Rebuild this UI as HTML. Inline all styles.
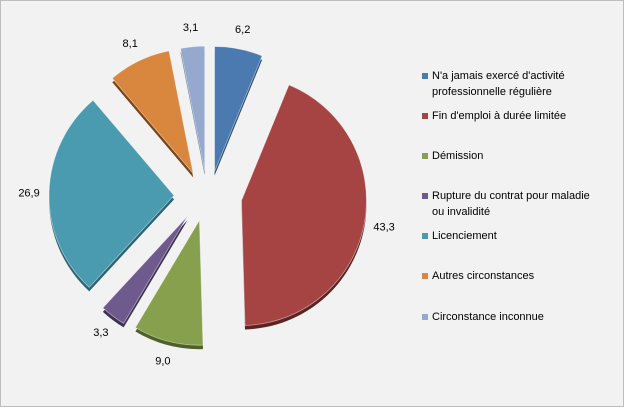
<!DOCTYPE html>
<html><head><meta charset="utf-8"><style>
body{margin:0;background:#fff}
#c{position:absolute;left:0;top:0;width:622px;height:405px;border:1px solid #bdbdbd;background:#f2f2f2;font-family:"Liberation Sans",sans-serif}
.lg{position:absolute;left:421px;font-size:11px;color:#000;line-height:16px}
.lg i{position:absolute;left:0;top:5px;width:6px;height:6px}
.lg span{display:block;margin-left:10px}
</style></head><body>
<div id="c">
<svg id="pie" width="420" height="405" style="position:absolute;left:0;top:0"></svg>
<div class="lg" style="top:67px"><i style="background:#4a7ab0"></i><span>N'a jamais exercé d'activité<br>professionnelle régulière</span></div>
<div class="lg" style="top:107px"><i style="background:#a54443"></i><span>Fin d'emploi à durée limitée</span></div>
<div class="lg" style="top:147px"><i style="background:#87a04d"></i><span>Démission</span></div>
<div class="lg" style="top:187px"><i style="background:#6e5a8c"></i><span>Rupture du contrat pour maladie<br>ou invalidité</span></div>
<div class="lg" style="top:227px"><i style="background:#4a9bb0"></i><span>Licenciement</span></div>
<div class="lg" style="top:267px"><i style="background:#d9873e"></i><span>Autres circonstances</span></div>
<div class="lg" style="top:308px"><i style="background:#94a9cd"></i><span>Circonstance inconnue</span></div>
</div>
<script>
const categories=["N'a jamais exercé d'activité professionnelle régulière","Fin d'emploi à durée limitée","Démission","Rupture du contrat pour maladie ou invalidité","Licenciement","Autres circonstances","Circonstance inconnue"];
const values=[6.2,43.3,9.0,3.3,26.9,8.1,3.1];
const labels=["6,2","43,3","9,0","3,3","26,9","8,1","3,1"];
const colors=["#4a7ab0","#a54443","#87a04d","#6e5a8c","#4a9bb0","#d9873e","#94a9cd"];
const darks=["#2e4f78","#5e2321","#4f6128","#3f3154","#2c6576","#7a4617","#5d6f90"];
const svg=document.getElementById('pie');const NS='http://www.w3.org/2000/svg';
const cx=207,cy=195,R=125,exX=34,exY=25,depth=4;
const total=values.reduce((a,b)=>a+b,0);
function pt(x,y,a,r){return [x+r*Math.sin(a),y-r*Math.cos(a)];}
let cum=0;
values.forEach((v,i)=>{
 const a0=cum/total*2*Math.PI;cum+=v;const a1=cum/total*2*Math.PI;const am=(a0+a1)/2;
 const ox=cx+exX*Math.sin(am),oy=cy-exY*Math.cos(am);
 const large=(a1-a0)>Math.PI?1:0;
 function path(dy){const p0=pt(ox,oy+dy,a0,R),p1=pt(ox,oy+dy,a1,R);
  return `M${ox},${oy+dy}L${p0[0]},${p0[1]}A${R},${R} 0 ${large} 1 ${p1[0]},${p1[1]}Z`;}
 const sh=document.createElementNS(NS,'path');sh.setAttribute('d',path(depth));sh.setAttribute('fill',darks[i]);
 
 
 svg.appendChild(sh);
 const p=document.createElementNS(NS,'path');p.setAttribute('d',path(0));p.setAttribute('fill',colors[i]);
 p.setAttribute('stroke','#ffffff');p.setAttribute('stroke-opacity','0.5');p.setAttribute('stroke-width','0.8');
 
 
 svg.appendChild(p);
 const l=pt(ox,oy,am,R+20);
 const t=document.createElementNS(NS,'text');t.setAttribute('x',l[0]);t.setAttribute('y',l[1]+4);
 t.setAttribute('text-anchor','middle');t.setAttribute('font-size','11');t.setAttribute('font-family','Liberation Sans, sans-serif');
 t.textContent=labels[i];
 
 
 svg.appendChild(t);
});
</script>
</body></html>
